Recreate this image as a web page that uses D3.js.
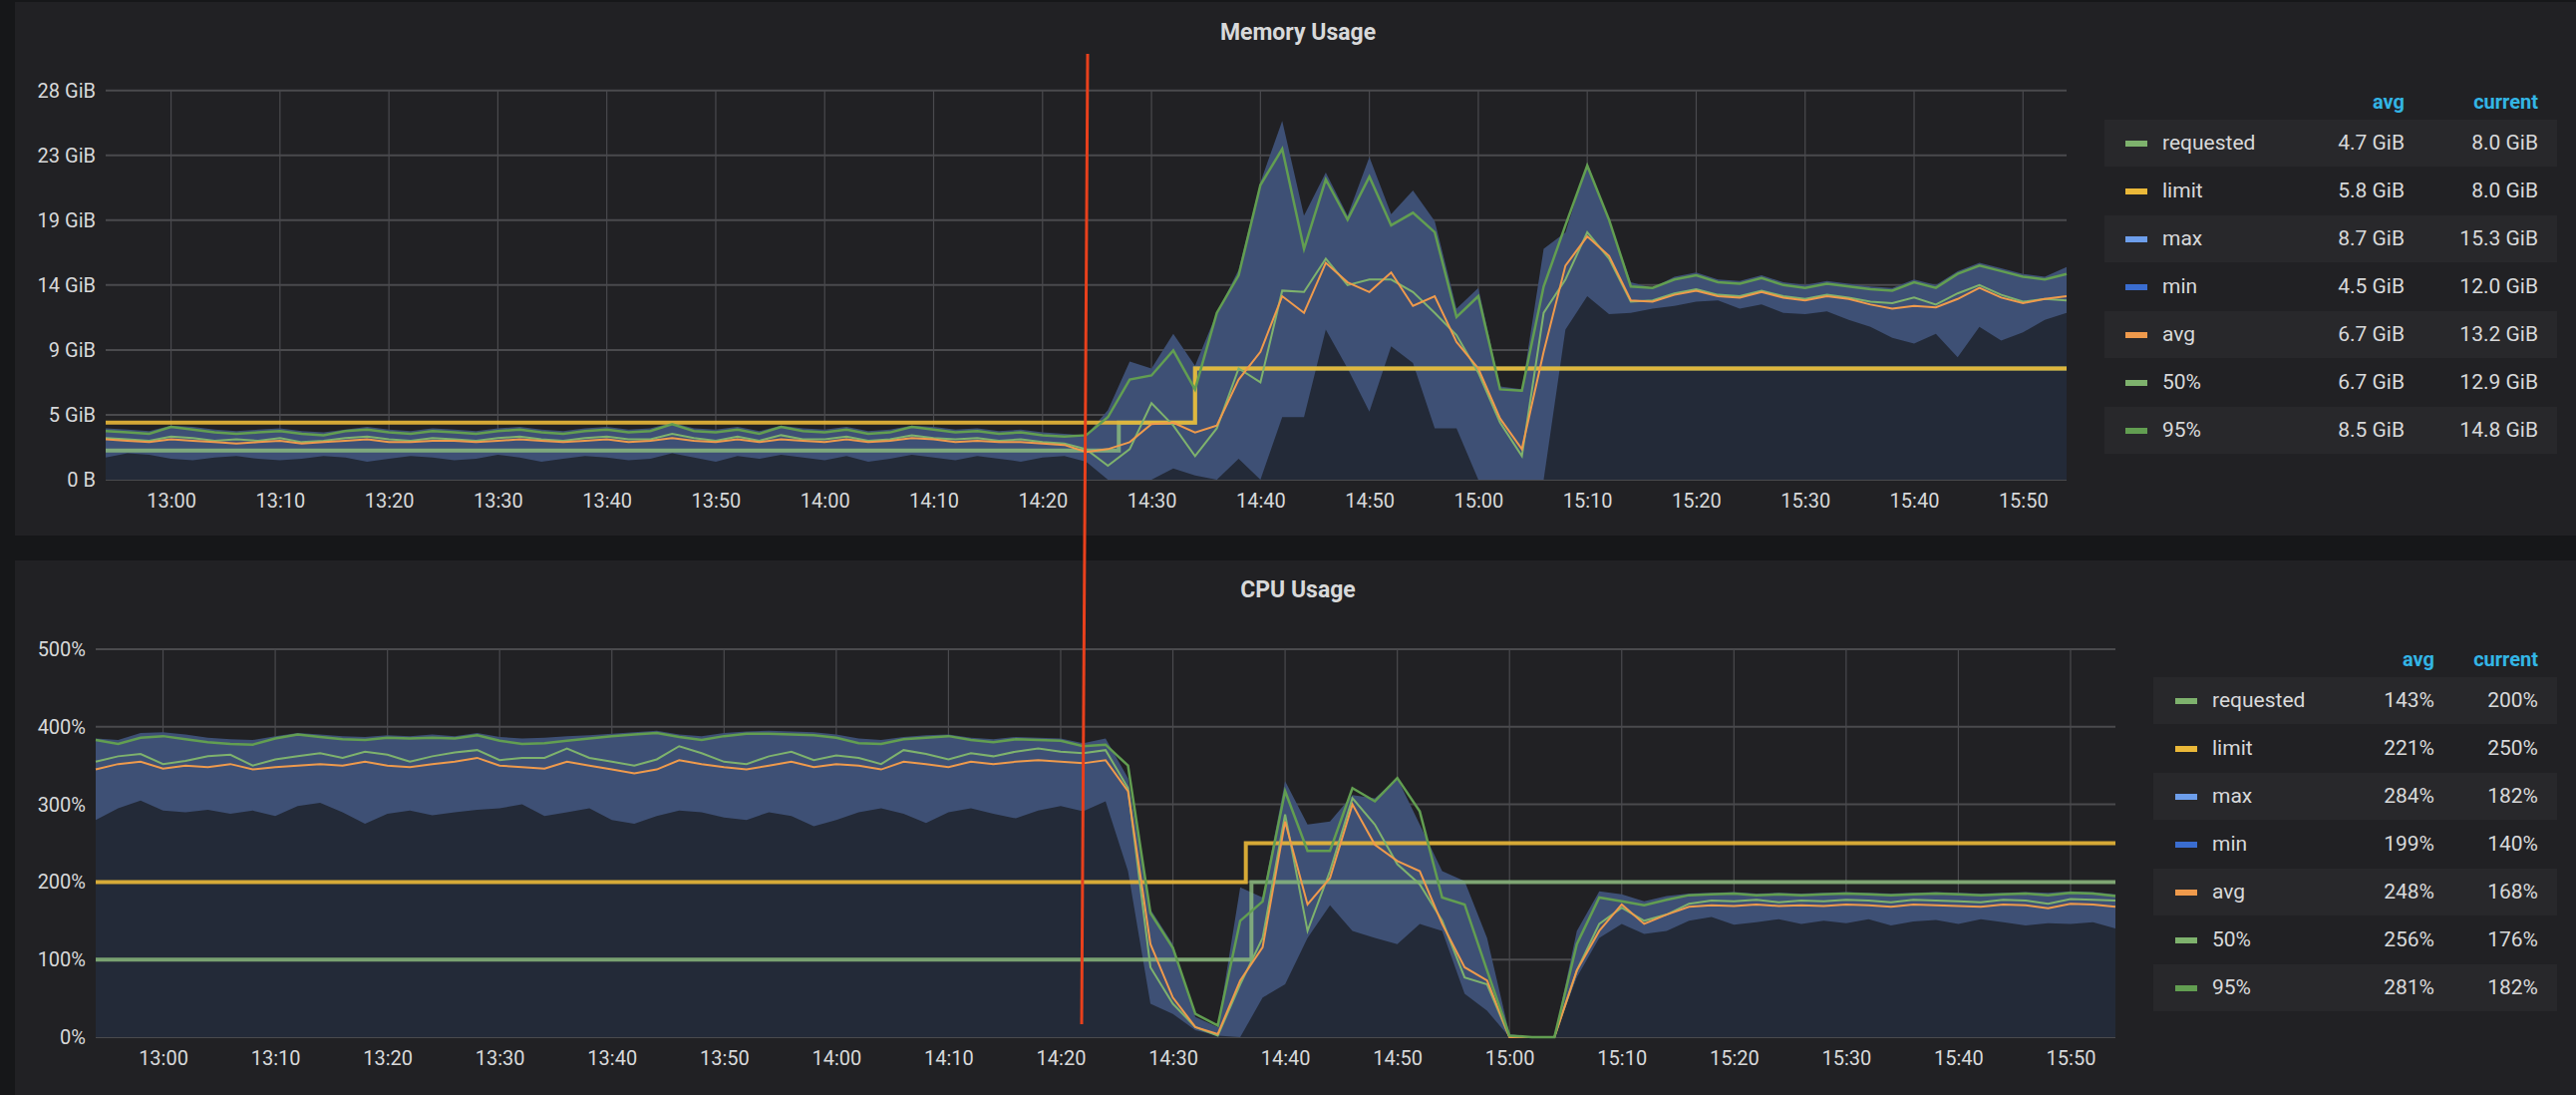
<!DOCTYPE html>
<html><head><meta charset="utf-8">
<script src="https://cdn.jsdelivr.net/npm/d3@7"></script>
<style>html,body{margin:0;padding:0;background:#161719;}svg{display:block;font-family:Roboto,"Noto Sans",sans-serif;}</style>
</head><body><svg id="c" width="2584" height="1098"></svg>
<script>
// ---- data (2-minute samples starting 12:54) ----
const startTime = "12:54", stepMin = 2;
const xTickLabels = ["13:00","13:10","13:20","13:30","13:40","13:50","14:00","14:10","14:20","14:30","14:40","14:50","15:00","15:10","15:20","15:30","15:40","15:50"];
const legendNames = ["requested","limit","max","min","avg","50%","95%"];
const legendColors = ["#7eb26d","#eab839","#6d9eeb","#3a6dd0","#ef9a4c","#7eb26d","#629e51"];

const memTickValues = [0,28/6,56/6,14,112/6,140/6,28];
const memTickLabels = ["0 B","5 GiB","9 GiB","14 GiB","19 GiB","23 GiB","28 GiB"];
const memMax = [3.7,3.6,3.5,3.9,3.8,3.6,3.5,3.6,3.7,3.5,3.4,3.6,3.8,3.6,3.5,3.7,3.6,3.5,3.7,3.8,3.6,3.5,3.7,3.8,3.6,3.7,4.1,3.7,3.6,3.8,3.5,3.9,3.7,3.6,3.8,3.5,3.6,3.9,3.8,3.6,3.7,3.5,3.6,3.4,3.3,
 3.2,5.0,8.5,8.0,10.5,8.2,12.0,15.1,21.4,25.8,19.0,22.1,19.0,23.2,19.1,20.8,18.6,12.3,13.8,6.7,6.5,16.6,17.8,22.8,18.7,14.2,13.8,
 14.6,14.9,14.4,14.3,14.7,14.2,14.0,14.3,14.1,13.9,13.8,14.4,14.0,15.0,15.6,15.2,14.8,14.6,15.3];
const memP95 = [3.5,3.4,3.3,3.8,3.6,3.4,3.3,3.4,3.5,3.3,3.2,3.5,3.6,3.4,3.3,3.5,3.4,3.3,3.5,3.6,3.4,3.3,3.5,3.6,3.4,3.5,4.0,3.5,3.4,3.6,3.3,3.8,3.5,3.4,3.6,3.3,3.4,3.8,3.6,3.4,3.5,3.3,3.4,3.2,3.1,
 3.2,4.5,7.2,7.5,9.3,6.5,12.0,14.7,21.2,23.8,16.6,21.6,18.7,21.8,18.3,19.2,17.8,11.7,13.2,6.5,6.4,13.9,18.3,22.6,18.7,13.9,13.8,
 14.4,14.7,14.2,14.1,14.5,14.0,13.8,14.1,13.9,13.7,13.6,14.2,13.8,14.8,15.4,15.0,14.6,14.4,14.8];
const memP50 = [3.0,2.9,2.8,3.1,3.0,2.8,2.9,2.8,3.0,2.7,2.8,3.0,3.1,2.9,2.8,3.0,2.9,2.8,3.0,3.1,2.9,2.8,3.0,3.1,2.9,2.9,3.3,3.0,2.8,3.1,2.8,3.2,2.9,2.9,3.1,2.8,2.9,3.2,3.0,2.9,3.0,2.8,2.9,2.7,2.6,
 2.2,1.0,2.2,5.5,3.9,1.7,3.7,8.0,7.0,13.6,13.5,15.9,14.0,14.4,14.4,13.5,12.0,10.4,7.7,4.1,1.7,12.0,14.4,17.8,15.9,12.8,12.9,
 13.4,13.7,13.3,13.2,13.6,13.2,13.0,13.3,13.1,12.8,12.7,13.1,12.6,13.4,14.0,13.3,12.8,13.0,12.9];
const memAvg = [2.9,2.8,2.7,2.9,2.8,2.7,2.6,2.7,2.8,2.6,2.7,2.8,2.9,2.7,2.7,2.8,2.8,2.7,2.8,2.9,2.8,2.7,2.8,2.9,2.7,2.8,3.0,2.8,2.7,2.9,2.7,2.9,2.8,2.7,2.9,2.7,2.8,3.0,2.9,2.7,2.8,2.7,2.7,2.6,2.5,
 2.0,2.2,2.7,4.0,4.1,3.4,3.9,7.2,9.2,13.2,12.0,15.6,14.2,13.5,14.9,12.5,13.2,9.9,8.0,4.4,2.2,9.2,15.4,17.5,16.1,12.9,12.8,
 13.3,13.6,13.2,13.1,13.5,13.1,12.9,13.2,13.0,12.6,12.3,12.5,12.4,13.0,13.8,13.1,12.7,13.0,13.2];
const memMin = [1.6,1.9,1.8,1.5,1.4,1.6,1.7,1.5,1.4,1.5,1.7,1.6,1.3,1.5,1.7,1.6,1.4,1.5,1.8,1.6,1.3,1.5,1.7,1.6,1.4,1.5,1.9,1.6,1.3,1.7,1.5,1.8,1.6,1.4,1.7,1.3,1.5,1.8,1.6,1.4,1.7,1.5,1.3,1.6,1.7,
 1.3,0,0,0,0.8,0.3,0,1.5,0,4.5,4.5,10.8,8.0,4.9,9.6,8.4,3.7,3.7,0,0,0,0,10.8,13.2,11.9,12.0,12.3,
 12.5,12.8,12.9,12.3,12.6,12.0,11.9,12.1,11.5,11.0,10.2,9.8,10.5,8.8,11.0,10.0,10.6,11.5,12.0];
const memReqSteps = [["12:54",2.1],["14:27",4.1],["14:34",8.0],["15:54",8.0]];
const memLimSteps = [["12:54",4.1],["14:34",8.0],["15:54",8.0]];
const memLegendAvg = ["4.7 GiB","5.8 GiB","8.7 GiB","4.5 GiB","6.7 GiB","6.7 GiB","8.5 GiB"];
const memLegendCur = ["8.0 GiB","8.0 GiB","15.3 GiB","12.0 GiB","13.2 GiB","12.9 GiB","14.8 GiB"];

const cpuTickValues = [0,100,200,300,400,500];
const cpuTickLabels = ["0%","100%","200%","300%","400%","500%"];
const cpuMax = [385,383,392,393,390,386,384,383,388,392,390,388,387,389,388,390,388,392,387,385,386,388,389,391,393,395,390,388,392,394,395,394,393,390,385,383,387,389,390,386,384,387,386,385,
 379,385,334,165,120,26,13,193,180,330,274,278,312,308,334,274,214,201,128,4,0,0,137,188,184,175,182,
 185,186,187,185,186,185,186,187,186,185,186,187,186,185,186,187,186,188,187,184];
const cpuP95 = [383,378,386,388,384,380,378,377,385,390,387,384,383,386,385,386,385,389,382,378,379,382,385,388,390,392,387,383,388,391,391,390,389,386,379,378,384,386,388,383,380,384,383,382,
 375,377,350,160,115,30,15,150,175,317,240,240,321,304,334,291,180,171,86,2,0,0,120,180,175,170,177,
 183,184,185,183,184,183,184,185,184,183,184,185,184,183,184,185,183,186,185,182];
const cpuP50 = [355,362,365,352,356,362,364,350,358,362,366,360,368,364,355,362,367,370,357,360,360,372,360,355,350,358,375,366,355,352,362,368,357,363,360,352,370,365,358,366,362,368,372,368,
 366,370,321,90,43,13,2,68,128,287,137,214,308,274,223,197,150,77,68,0,0,0,86,146,167,150,158,
 172,176,175,177,174,176,175,177,176,174,177,176,175,174,177,176,172,178,177,176];
const cpuAvg = [345,352,355,346,350,348,352,345,348,350,352,350,355,350,348,352,355,360,350,348,346,355,350,345,340,345,357,352,348,345,350,355,348,352,350,345,355,352,348,355,352,355,357,355,
 353,357,317,120,51,13,4,73,116,278,171,205,300,248,227,214,146,90,73,0,0,0,86,137,171,146,158,
 168,170,169,171,169,170,169,171,170,168,171,170,169,168,171,170,166,172,171,168];
const cpuMin = [280,295,305,292,290,293,288,292,285,298,302,290,275,288,292,286,290,293,295,300,285,290,295,280,275,285,292,290,283,280,290,285,272,280,290,295,288,276,290,295,288,282,292,298,
 291,304,214,43,30,9,2,0,51,68,128,170,137,128,120,146,137,56,34,0,0,0,77,128,146,133,137,
 150,155,145,148,152,146,150,147,152,144,149,151,146,152,148,144,147,146,148,140];
const cpuReqSteps = [["12:54",100],["14:37",200],["15:54",200]];
const cpuLimSteps = [["12:54",200],["14:36.5",250],["15:54",250]];
const cpuLegendAvg = ["143%","221%","284%","199%","248%","256%","281%"];
const cpuLegendCur = ["200%","250%","182%","140%","168%","176%","182%"];

// ---- helpers ----
const toMin = s => { const [h,m] = s.split(":"); return (+h)*60 + (+m); };
const t0 = toMin(startTime);
const svg = d3.select("#c");

function panel(cfg){
  const g = svg.append("g");
  g.append("rect").attr("x",15).attr("y",cfg.py0).attr("width",2584-15).attr("height",cfg.py1-cfg.py0).attr("fill","#212124");
  g.append("text").attr("x",cfg.titleX).attr("y",cfg.titleY).attr("text-anchor","middle").attr("fill","#d8d9da")
    .attr("font-size",23).attr("font-weight","bold").text(cfg.title);
  const x = d3.scaleLinear().domain([toMin("12:54"), toMin("15:54")]).range([cfg.x0,cfg.x1]);
  const y = d3.scaleLinear().domain(cfg.ydom).range([cfg.y0,cfg.y1]);
  g.selectAll(".hg").data(cfg.yTicks).join("line").attr("x1",cfg.x0).attr("x2",cfg.x1)
    .attr("y1",d=>y(d)).attr("y2",d=>y(d)).attr("stroke","#4a4a4d").attr("stroke-width",2);
  g.selectAll(".vg").data(xTickLabels).join("line").attr("x1",d=>x(toMin(d))).attr("x2",d=>x(toMin(d)))
    .attr("y1",cfg.y1).attr("y2",cfg.y0).attr("stroke","#4a4a4e").attr("stroke-width",1.2);
  g.selectAll(".yl").data(cfg.yTicks).join("text").attr("x",cfg.x0-10).attr("y",d=>y(d)).attr("dy","0.35em")
    .attr("text-anchor","end").attr("fill","#d8d9da").attr("font-size",20).text((d,i)=>cfg.yLabels[i]);
  const ax = d3.axisBottom(x).tickValues(xTickLabels.map(toMin)).tickFormat((d,i)=>xTickLabels[i]).tickSize(0).tickPadding(14);
  const axg = g.append("g").attr("transform",`translate(0,${cfg.y0})`).call(ax);
  axg.select(".domain").remove();
  axg.selectAll("text").attr("fill","#d8d9da").attr("font-size",20).attr("font-family","Roboto,sans-serif");
  const X = (d,i) => x(t0 + i*stepMin);
  const area = arr => d3.area().x(X).y0(y(0)).y1(d=>y(d)).curve(d3.curveLinear)(arr);
  g.append("path").attr("d",area(cfg.max)).attr("fill","#3e5075");
  g.append("path").attr("d",area(cfg.min)).attr("fill","#232a38");
  const line = d3.line().x(X).y(d=>y(d));
  const stepLine = d3.line().x(d=>x(toMin(d[0]))).y(d=>y(d[1])).curve(d3.curveStepAfter);
  g.append("path").attr("d",stepLine(cfg.req)).attr("fill","none").attr("stroke","#8fbf80").attr("stroke-width",4).attr("opacity",0.8);
  g.append("path").attr("d",stepLine(cfg.lim)).attr("fill","none").attr("stroke","#eab839").attr("stroke-width",4).attr("opacity",0.9);
  g.append("path").attr("d",line(cfg.p50)).attr("fill","none").attr("stroke","#7eb26d").attr("stroke-width",2);
  g.append("path").attr("d",line(cfg.avg)).attr("fill","none").attr("stroke","#ef9a4c").attr("stroke-width",2);
  g.append("path").attr("d",line(cfg.p95)).attr("fill","none").attr("stroke","#629e51").attr("stroke-width",2.5);
  const lg = g.append("g");
  lg.append("text").attr("x",cfg.avgX).attr("y",cfg.headY).attr("text-anchor","end").attr("fill","#33b5e5").attr("font-size",20).attr("font-weight","bold").text("avg");
  lg.append("text").attr("x",cfg.curX).attr("y",cfg.headY).attr("text-anchor","end").attr("fill","#33b5e5").attr("font-size",20).attr("font-weight","bold").text("current");
  legendNames.forEach((n,i)=>{
    const cy = cfg.row0 + i*48;
    if(i%2===0) lg.append("rect").attr("x",cfg.lx0).attr("y",cy-23).attr("width",cfg.lx1-cfg.lx0).attr("height",47).attr("fill","#28282b");
    lg.append("rect").attr("x",cfg.swX).attr("y",cy-2).attr("width",22).attr("height",6).attr("fill",legendColors[i]);
    lg.append("text").attr("x",cfg.swX+37).attr("y",cy).attr("dy","0.35em").attr("fill","#d8d9da").attr("font-size",21).text(n);
    lg.append("text").attr("x",cfg.avgX).attr("y",cy).attr("dy","0.35em").attr("text-anchor","end").attr("fill","#d8d9da").attr("font-size",21).text(cfg.lavg[i]);
    lg.append("text").attr("x",cfg.curX).attr("y",cy).attr("dy","0.35em").attr("text-anchor","end").attr("fill","#d8d9da").attr("font-size",21).text(cfg.lcur[i]);
  });
}

panel({py0:2,py1:537,title:"Memory Usage",titleX:1302,titleY:40,x0:106,x1:2073,y0:481,y1:90.7,ydom:[0,28],
  yTicks:memTickValues,yLabels:memTickLabels,max:memMax,min:memMin,p95:memP95,p50:memP50,avg:memAvg,req:memReqSteps,lim:memLimSteps,
  lx0:2111,lx1:2565,swX:2132,avgX:2412,curX:2546,headY:109,row0:143,lavg:memLegendAvg,lcur:memLegendCur});
panel({py0:562,py1:1098,title:"CPU Usage",titleX:1302,titleY:599,x0:96,x1:2122,y0:1040,y1:651,ydom:[0,500],
  yTicks:cpuTickValues,yLabels:cpuTickLabels,max:cpuMax,min:cpuMin,p95:cpuP95,p50:cpuP50,avg:cpuAvg,req:cpuReqSteps,lim:cpuLimSteps,
  lx0:2160,lx1:2565,swX:2182,avgX:2442,curX:2546,headY:668,row0:702,lavg:cpuLegendAvg,lcur:cpuLegendCur});

svg.append("line").attr("x1",1091).attr("y1",54).attr("x2",1085).attr("y2",1027).attr("stroke","#e8401c").attr("stroke-width",3);
</script></body></html>
